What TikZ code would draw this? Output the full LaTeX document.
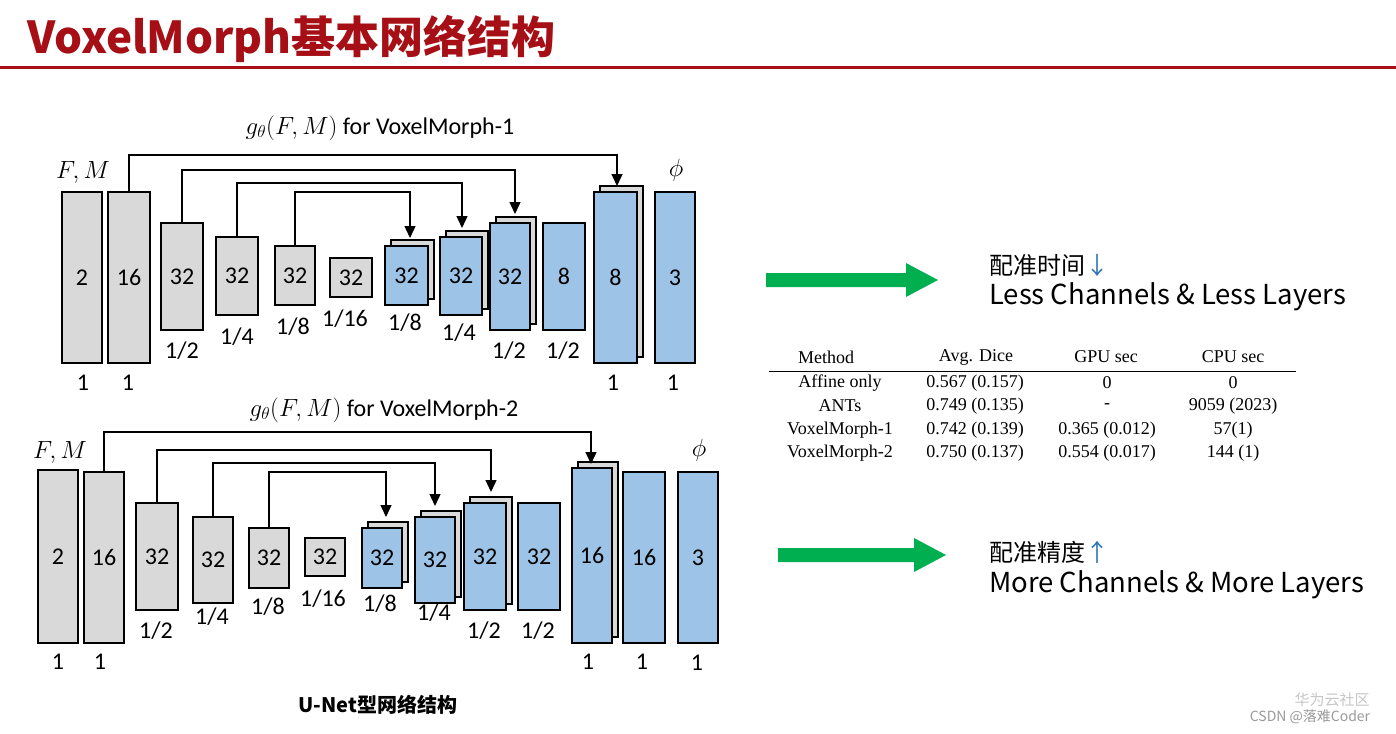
\documentclass[tikz,border=0pt]{standalone}
\usepackage{fontspec}
\setmainfont{Liberation Serif}
\newfontfamily\cjk{Noto Sans CJK SC}
\newfontfamily\dia{Carlito}
\usetikzlibrary{arrows.meta}
\definecolor{boxgray}{HTML}{D9D9D9}
\definecolor{boxblue}{HTML}{9DC3E6}
\definecolor{titlered}{HTML}{A50F15}
\definecolor{arrgreen}{HTML}{00B050}
\definecolor{uparrblue}{HTML}{2E75B6}
\tikzset{
  gbox/.style={draw,line width=2.6pt,fill=boxgray,inner sep=0pt,font=\dia\fontsize{24}{26}\selectfont},
  bbox/.style={draw,line width=2.6pt,fill=boxblue,inner sep=0pt,font=\dia\fontsize{24}{26}\selectfont},
  lab/.style={font=\dia\fontsize{24}{26}\selectfont,inner sep=0pt},
  skip/.style={line width=1.4pt,-{Triangle[width=11pt,length=12pt]}},
  tab/.style={font=\fontsize{18}{20}\selectfont,inner sep=0pt},
  bigarrow/.style={fill=arrgreen,draw=none},
}
\newcommand{\bx}[7]{%
  \pgfmathsetmacro\cx{(#2+#4)/2}\pgfmathsetmacro\cy{(#3+#5)/2}%
  \pgfmathsetmacro\ww{#4-#2}\pgfmathsetmacro\hh{#5-#3}%
  \node[#6,minimum width=\ww pt,minimum height=\hh pt] (#1) at (\cx,\cy) {#7};}
\newcommand{\sbx}[6]{%
  \pgfmathsetmacro\ax{#2+6}\pgfmathsetmacro\ay{#3-6}\pgfmathsetmacro\bxx{#4+6}\pgfmathsetmacro\by{#5-6}%
  \bx{s#1}{\ax}{\ay}{\bxx}{\by}{gbox}{}%
  \bx{#1}{#2}{#3}{#4}{#5}{bbox}{#6}}
\begin{document}
\begin{tikzpicture}[x=1pt,y=-1pt]
\useasboundingbox (0,0) rectangle (1396,733);
% title
\node[anchor=west,inner sep=0pt,text=titlered,font=\cjk\bfseries\fontsize{44}{48}\selectfont] (title) at (27,39) {VoxelMorph基本网络结构};
\draw[titlered,line width=3pt] (0,68) -- (1396,68);
% ---------- top network ----------
\node[lab] (t1) at (380,128) {$g_\theta(F,M)$ for VoxelMorph-1};
\node[lab] (tfm) at (83,172) {$F,M$};
\node[lab] (tphi) at (676,170) {$\phi$};
\bx{a1}{62}{192}{102}{363}{gbox}{2}
\bx{a2}{108}{192}{150}{363}{gbox}{16}
\bx{a3}{161}{223}{203}{330}{gbox}{32}
\bx{a4}{216}{237}{258}{315}{gbox}{32}
\bx{a5}{275}{246}{315}{305}{gbox}{32}
\bx{a6}{330}{258}{372}{297}{gbox}{32}
\sbx{a7}{385}{246}{428}{305}{32}
\sbx{a8}{440}{237}{482}{315}{32}
\sbx{a9}{490}{223}{530}{330}{32}
\bx{a10}{543}{223}{585}{330}{bbox}{8}
\sbx{a11}{594}{192}{637}{363}{8}
\bx{a12}{655}{192}{695}{363}{bbox}{3}
\node[lab] at (83,383) {1};
\node[lab] at (128,383) {1};
\node[lab] at (182,351) {1/2};
\node[lab] at (237,337) {1/4};
\node[lab] at (293,327) {1/8};
\node[lab] at (345,319) {1/16};
\node[lab] at (405,323) {1/8};
\node[lab] at (459,333) {1/4};
\node[lab] at (509,351) {1/2};
\node[lab] at (563,351) {1/2};
\node[lab] at (613,383) {1};
\node[lab] at (673,383) {1};
\draw[skip] (a2.north) |- (617,155) -- (617,186);
\draw[skip] (a3.north) |- (515,170) -- (515,214);
\draw[skip] (a4.north) |- (462,183) -- (462,228);
\draw[skip] (a5.north) |- (410,192) -- (410,238);
% ---------- bottom network ----------
\node[lab] (t2) at (384,410) {$g_\theta(F,M)$ for VoxelMorph-2};
\node[lab] (bfm) at (60,452) {$F,M$};
\node[lab] (bphi) at (699,450) {$\phi$};
\bx{c1}{38}{470}{78}{643}{gbox}{2}
\bx{c2}{84}{472}{124}{643}{gbox}{16}
\bx{c3}{136}{503}{178}{610}{gbox}{32}
\bx{c4}{193}{517}{233}{603}{gbox}{32}
\bx{c5}{249}{528}{289}{588}{gbox}{32}
\bx{c6}{305}{538}{345}{576}{gbox}{32}
\sbx{c7}{362}{528}{402}{588}{32}
\sbx{c8}{415}{517}{455}{603}{32}
\sbx{c9}{464}{503}{506}{610}{32}
\bx{c10}{518}{503}{560}{610}{bbox}{32}
\sbx{c11}{572}{468}{612}{643}{16}
\bx{c12}{623}{472}{665}{643}{bbox}{16}
\bx{c13}{678}{472}{718}{643}{bbox}{3}
\node[lab] at (58,662) {1};
\node[lab] at (100,662) {1};
\node[lab] at (156,631) {1/2};
\node[lab] at (212,617) {1/4};
\node[lab] at (268,607) {1/8};
\node[lab] at (323,599) {1/16};
\node[lab] at (380,604) {1/8};
\node[lab] at (434,613) {1/4};
\node[lab] at (484,631) {1/2};
\node[lab] at (538,631) {1/2};
\node[lab] at (588,662) {1};
\node[lab] at (642,662) {1};
\node[lab] at (697,663) {1};
\draw[skip] (c2.north) |- (591,432) -- (591,464);
\draw[skip] (c3.north) |- (491,450) -- (491,492);
\draw[skip] (c4.north) |- (435,463) -- (435,506);
\draw[skip] (c5.north) |- (386,472) -- (386,517);
\node[inner sep=0pt,font=\cjk\bfseries\fontsize{20}{22}\selectfont] (cap) at (378,705) {U-Net型网络结构};
% ---------- right side ----------
\fill[bigarrow] (766,273) -- (906,273) -- (906,263) -- (938,280) -- (906,297) -- (906,287) -- (766,287) -- cycle;
\fill[bigarrow] (778,548) -- (914,548) -- (914,538) -- (946,555) -- (914,572) -- (914,562) -- (778,562) -- cycle;
\node[anchor=west,inner sep=0pt,font=\cjk\fontsize{24}{26}\selectfont] (r1) at (989,265) {配准时间\textcolor{uparrblue}{↓}};
\node[anchor=west,inner sep=0pt,font=\cjk\fontsize{27.5}{30}\selectfont] (r2) at (989,297) {Less Channels \& Less Layers};
\node[anchor=west,inner sep=0pt,font=\cjk\fontsize{24}{26}\selectfont] (r3) at (989,552) {配准精度\textcolor{uparrblue}{↑}};
\node[anchor=west,inner sep=0pt,font=\cjk\fontsize{27.5}{30}\selectfont] (r4) at (989,585) {More Channels \& More Layers};
% table
\node[tab] at (826,357) {Method};
\node[tab] at (976,357) {Avg. Dice};
\node[tab] at (1106,357) {GPU sec};
\node[tab] at (1233,357) {CPU sec};
\draw[line width=0.9pt] (769,371.5) -- (1296,371.5);
\node[tab] at (840,383) {Affine only};
\node[tab] at (975,383) {0.567 (0.157)};
\node[tab] at (1107,383) {0};
\node[tab] at (1233,383) {0};
\node[tab] at (840,406) {ANTs};
\node[tab] at (975,406) {0.749 (0.135)};
\node[tab] at (1107,406) {-};
\node[tab] at (1233,406) {9059 (2023)};
\node[tab] at (840,430) {VoxelMorph-1};
\node[tab] at (975,430) {0.742 (0.139)};
\node[tab] at (1107,430) {0.365 (0.012)};
\node[tab] at (1233,430) {57(1)};
\node[tab] at (840,453) {VoxelMorph-2};
\node[tab] at (975,453) {0.750 (0.137)};
\node[tab] at (1107,453) {0.554 (0.017)};
\node[tab] at (1233,453) {144 (1)};
% watermark
\node[inner sep=0pt,text=gray!45,font=\cjk\fontsize{15}{16}\selectfont] (wm1) at (1332,700) {华为云社区};
\node[inner sep=0pt,text=gray!80,font=\cjk\fontsize{14}{15}\selectfont] (wm2) at (1310,717) {CSDN @落难Coder};
\end{tikzpicture}
\end{document}
